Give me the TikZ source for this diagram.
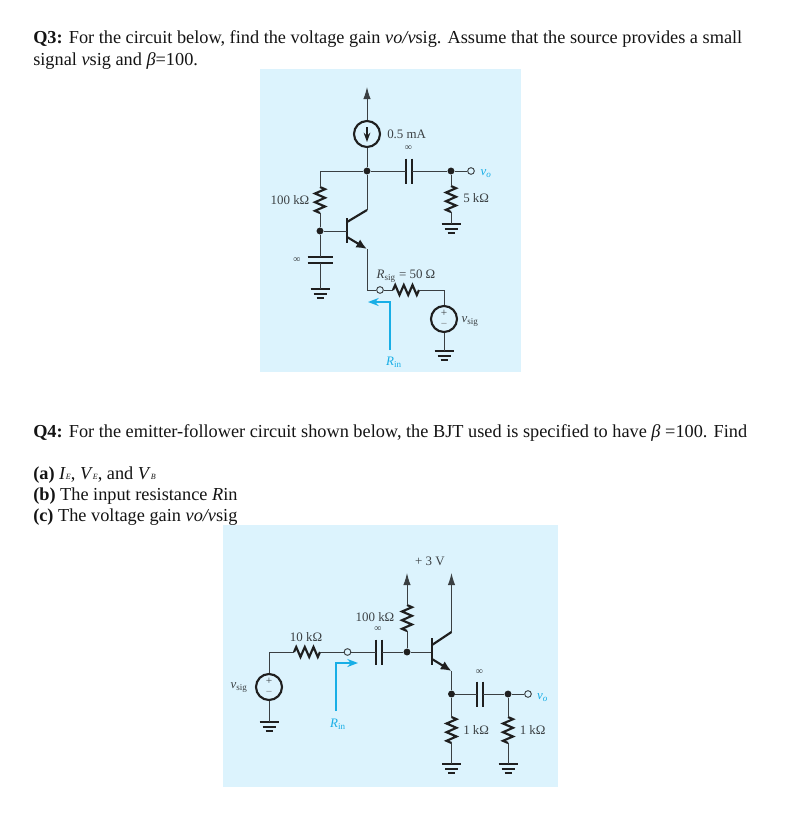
\documentclass[tikz,border=0pt]{standalone}
\usepackage{fontspec}
\setmainfont{Liberation Serif}
\usetikzlibrary{arrows.meta}
\definecolor{panel}{HTML}{DCF3FD}
\definecolor{wirec}{HTML}{3A3F42}
\definecolor{labc}{HTML}{3C4144}
\definecolor{cy}{HTML}{18AEE6}
\tikzset{
  wire/.style={draw=wirec,line width=0.75pt},
  thickpart/.style={draw=black!88,line width=1.6pt},
  dot/.style={circle,fill=black!88,draw=none,inner sep=0pt,minimum size=5.2pt},
  term/.style={circle,fill=panel,draw=wirec,line width=0.7pt,inner sep=0pt,minimum size=5pt},
  src/.style={circle,fill=panel,draw=black!88,line width=1.6pt,inner sep=0pt,minimum size=19.5pt},
  lab/.style={text=labc,font=\fontsize{9.7pt}{11pt}\selectfont,inner sep=0pt},
  cylab/.style={text=cy,font=\fontsize{9.7pt}{11pt}\selectfont,inner sep=0pt},
  sgn/.style={text=labc,font=\fontsize{8.5pt}{9pt}\selectfont,inner sep=0pt},
  inflab/.style={text=labc,font=\fontsize{7.5pt}{8pt}\selectfont,inner sep=0pt},
  para/.style={anchor=base west,inner sep=0pt,font=\fontsize{13.72pt}{16pt}\selectfont,text=black!92},
  upar/.style={-{Latex[length=9pt,width=5.5pt]}},
  cyline/.style={draw=cy,line width=1.2pt,-{Stealth[length=8pt,width=6pt]}},
  vres/.pic={
    \coordinate (-a) at (0,0); \coordinate (-b) at (0,26);
    \draw[thickpart,line join=miter] (0,0)--(5,2.2)--(-5,6.5)--(5,10.8)--(-5,15.2)--(5,19.5)--(-5,23.8)--(0,26);
  },
  hres/.pic={
    \coordinate (-a) at (0,0); \coordinate (-b) at (26,0);
    \draw[thickpart,line join=miter] (0,0)--(2.2,-5)--(6.5,5)--(10.8,-5)--(15.2,5)--(19.5,-5)--(23.8,5)--(26,0);
  },
  hcap/.pic={
    \coordinate (-a) at (0,0); \coordinate (-b) at (6,0);
    \draw[thickpart,line width=1.9pt] (0,-12.5)--(0,12.5) (6,-12.5)--(6,12.5);
  },
  vcap/.pic={
    \coordinate (-a) at (0,0); \coordinate (-b) at (0,6);
    \draw[thickpart,line width=1.9pt] (-12.5,0)--(12.5,0) (-12.5,6)--(12.5,6);
  },
  gnd/.pic={
    \coordinate (-t) at (0,0);
    \draw[thickpart,line width=1.5pt] (-9.5,0)--(9.5,0);
    \draw[thickpart,line width=1.5pt] (-6.5,4.5)--(6.5,4.5);
    \draw[thickpart,line width=1.8pt] (-3.5,9)--(3.5,9);
  },
}
\begin{document}
\begin{tikzpicture}[x=0.75pt,y=-0.75pt]
\useasboundingbox (0,0) rectangle (786,826);
\fill[white] (0,0) rectangle (786,826);
\fill[panel] (260,69) rectangle (521,372);
\fill[panel] (223,525) rectangle (558,787);

% Text
\node[para] (t1) at (33,43) {\textbf{Q3:} For the circuit below, find the voltage gain \textit{vo/v}sig. Assume that the source provides a small};
\node[para] (t2) at (33,65) {signal \textit{v}sig and \textit{β}=100.};
\node[para] (t3) at (33,437) {\textbf{Q4:} For the emitter-follower circuit shown below, the BJT used is specified to have \textit{β} =100. Find};
\node[para] (t4) at (33,479) {\textbf{(a)} \textit{I}{\fontsize{6pt}{6pt}\selectfont\textit{E}}, \textit{V}{\fontsize{6pt}{6pt}\selectfont\textit{E}}, and \textit{V}{\fontsize{6pt}{6pt}\selectfont\textit{B}}};
\node[para] (t5) at (33,500) {\textbf{(b)} The input resistance \textit{R}in};
\node[para] (t6) at (33,521) {\textbf{(c)} The voltage gain \textit{vo/v}sig};

% ===== Circuit 1 =====
\coordinate (atop) at (367,87);
\node[src] (cs) at (367,134) {};
\node[dot] (n1) at (367,171) {};
\coordinate (n1l) at (320,171);
\pic (r100) at (320,187) {vres};
\node[dot] (nb) at (320,231) {};
\pic (c1) at (406,171) {hcap};
\node[dot] (n2) at (451,171) {};
\node[term] (vo1) at (471,171) {};
\pic (r5) at (451,186) {vres};
\pic (g5) at (451,224) {gnd};
\coordinate (b1a) at (347,218);
\coordinate (b1b) at (347,243);
\coordinate (b1) at (347,231);
\coordinate (c1c) at (367,210);
\coordinate (e1) at (367,249);
\pic (cb) at (320,257) {vcap};
\pic (gb) at (320,289) {gnd};
\coordinate (e1d) at (367,290);
\node[term] (t1in) at (380,290) {};
\pic (rs) at (393,290) {hres};
\coordinate (rsr) at (444,290);
\node[src] (vs1) at (444,319) {};
\pic (gs) at (444,351) {gnd};

\draw[wire,upar] (cs) -- (atop);
\draw[wire] (cs) -- (n1);
\draw[thickpart,-{Stealth[length=7pt,width=5pt]},line width=1.1pt] (367,127) -- (367,142);
\draw[wire] (n1) -- (n1l) -- (r100-a);
\draw[wire] (r100-b) -- (nb);
\draw[wire] (n1) -- (c1-a);
\draw[wire] (c1-b) -- (n2);
\draw[wire] (n2) -- (vo1);
\draw[wire] (n2) -- (r5-a);
\draw[wire] (r5-b) -- (g5-t);
\draw[wire] (n1) -- (c1c);
\draw[thickpart] (b1a) -- (b1b);
\draw[thickpart] (b1 |- 0,222) -- (c1c);
\draw[thickpart,-{Latex[length=8pt,width=7pt]}] (b1 |- 0,237) -- (e1);
\draw[wire] (nb) -- (b1);
\draw[wire] (nb) -- (cb-a);
\draw[wire] (cb-b) -- (gb-t);
\draw[wire] (e1) -- (e1d) -- (t1in);
\draw[wire] (t1in) -- (rs-a);
\draw[wire] (rs-b) -- (rsr) -- (vs1);
\draw[wire] (vs1) -- (gs-t);
\draw[cyline] (390,350) -- (390,302) -- (368,302);

\node[lab,anchor=west] (l1) at (387,134) {0.5 mA};
\node[inflab] (l2) at (408.5,148) {∞};
\node[lab] (l3) at (290,200) {100 kΩ};
\node[lab,anchor=west] (l4) at (463,198) {5 kΩ};
\node[inflab] (l5) at (297,260) {∞};
\node[lab] (l6) at (406,276) {\textit{R}\textsubscript{sig} = 50 Ω};
\node[lab] (l7) at (470,321.5) {\textit{v}\textsubscript{sig}};
\node[cylab] (l8) at (486,174) {\textit{v}\textsubscript{\textit{o}}};
\node[cylab] (l9) at (394,362) {\textit{R}\textsubscript{in}};
\node[sgn] (p1) at (444,313) {+};
\node[sgn,text=labc!70] (m1) at (444,325) {−};

% ===== Circuit 2 =====
\node[src] (vs2) at (269,687) {};
\coordinate (vs2t) at (269,652);
\pic (g2s) at (269,722) {gnd};
\pic (r10) at (294,652) {hres};
\node[term] (t2in) at (347.5,652) {};
\pic (c2) at (376,652) {hcap};
\node[dot] (nb2) at (407,652) {};
\pic (r100b) at (407,605) {vres};
\coordinate (a2) at (407,573);
\coordinate (b2) at (432,652);
\coordinate (b2a) at (432,638);
\coordinate (b2b) at (432,665);
\coordinate (c2c) at (451.5,632);
\coordinate (a3) at (451.5,573);
\coordinate (e2) at (451.5,671);
\node[dot] (ne) at (451.5,694) {};
\pic (c3) at (477,694) {hcap};
\node[dot] (no) at (508,694) {};
\node[term] (vo2) at (528,694) {};
\pic (re) at (451.5,717) {vres};
\pic (rl) at (508,717) {vres};
\pic (ge) at (451.5,764) {gnd};
\pic (gl) at (508,764) {gnd};

\draw[wire] (vs2) -- (vs2t) -- (r10-a);
\draw[wire] (vs2) -- (g2s-t);
\draw[wire] (r10-b) -- (t2in);
\draw[wire] (t2in) -- (c2-a);
\draw[wire] (c2-b) -- (nb2);
\draw[wire] (nb2) -- (b2);
\draw[wire] (nb2) -- (r100b-b);
\draw[wire,upar] (r100b-a) -- (a2);
\draw[wire,upar] (c2c) -- (a3);
\draw[thickpart] (b2a) -- (b2b);
\draw[thickpart] (b2 |- 0,645) -- (c2c);
\draw[thickpart,-{Latex[length=8pt,width=7pt]}] (b2 |- 0,659) -- (e2);
\draw[wire] (e2) -- (ne);
\draw[wire] (ne) -- (c3-a);
\draw[wire] (c3-b) -- (no);
\draw[wire] (no) -- (vo2);
\draw[wire] (ne) -- (re-a);
\draw[wire] (re-b) -- (ge-t);
\draw[wire] (no) -- (rl-a);
\draw[wire] (rl-b) -- (gl-t);
\draw[cyline] (336,711) -- (336,663) -- (358,663);

\node[lab] (q1) at (430,561) {+ 3 V};
\node[lab] (q2) at (375,617) {100 kΩ};
\node[inflab] (q3) at (378,629.5) {∞};
\node[lab] (q4) at (306,637) {10 kΩ};
\node[lab] (q5) at (239,688) {\textit{v}\textsubscript{sig}};
\node[cylab] (q6) at (338,724) {\textit{R}\textsubscript{in}};
\node[inflab] (q7) at (479.5,672) {∞};
\node[lab,anchor=west] (q8) at (463,730) {1 kΩ};
\node[lab,anchor=west] (q9) at (519.5,730) {1 kΩ};
\node[cylab] (q10) at (542.5,698) {\textit{v}\textsubscript{\textit{o}}};
\node[sgn] (p2) at (269,681) {+};
\node[sgn,text=labc!70] (m2) at (269,693) {−};
\end{tikzpicture}
\end{document}
